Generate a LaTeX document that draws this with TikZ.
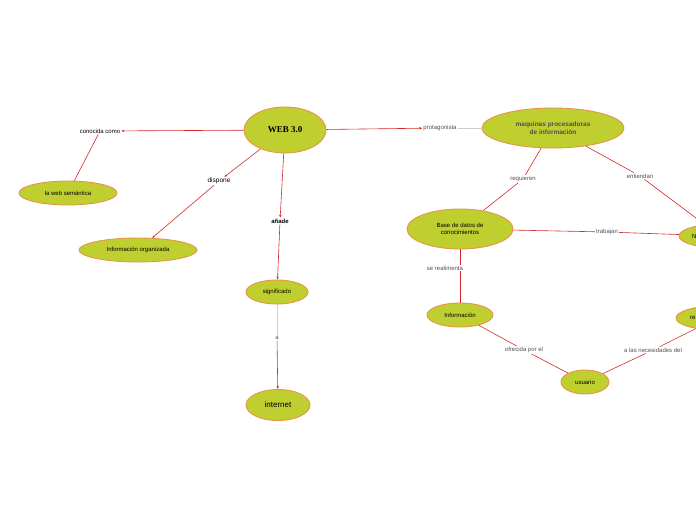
\documentclass[tikz,border=0pt]{standalone}
\usepackage{fontspec}
\setmainfont{Liberation Sans}
\newfontfamily\timesf{Liberation Serif}
\usetikzlibrary{shapes.geometric,arrows.meta}
\definecolor{nodefill}{HTML}{BFCF2F}
\definecolor{nodeborder}{HTML}{E8944A}
\definecolor{linkred}{HTML}{D42A2A}
\definecolor{labgray}{HTML}{505050}
\begin{document}
\begin{tikzpicture}[x=1pt,y=-1pt,
  concept/.style={ellipse,fill=nodefill,draw=nodeborder,line width=0.9pt,inner sep=0pt,font=\fontsize{6}{7}\selectfont,align=center},
  lab/.style={font=\fontsize{6}{7}\selectfont,text=labgray,fill=white,inner sep=1pt},
  link/.style={draw=linkred,line width=0.6pt},
  arr/.style={link,-{Stealth[length=3pt,width=2.5pt]}}]
\useasboundingbox (0,0) rectangle (696,520);
\clip (0,0) rectangle (696,520);
\node[concept,minimum width=82pt,minimum height=46pt,font=\timesf\bfseries\fontsize{9}{10}\selectfont] (web) at (285,130) {WEB 3.0};
\node[concept,minimum width=142pt,minimum height=40pt,text=labgray,font=\bfseries\fontsize{6.5}{8}\selectfont] (maq) at (553,128) {maquinas procesadoras\\de información};
\node[concept,minimum width=106pt,minimum height=40pt] (base) at (460,229) {Base de datos de\\conocimientos};
\node[concept,minimum width=66pt,minimum height=24pt] (info) at (460,315) {Información};
\node[concept,minimum width=48pt,minimum height=24pt] (usu) at (585,382) {usuario};
\node[concept,minimum width=82pt,minimum height=24pt] (nn) at (720,236) {};
\node[font=\fontsize{6}{7}\selectfont,anchor=west,inner sep=0pt] at (692,236) {N};
\node[concept,minimum width=82pt,minimum height=24pt] (re) at (717,318) {};
\node[font=\fontsize{6}{7}\selectfont,anchor=west,inner sep=0pt] at (690,318) {re};
\node[concept,minimum width=98pt,minimum height=24pt] (sem) at (68,193) {la web semántica};
\node[concept,minimum width=118pt,minimum height=24pt] (org) at (138,250) {Información organizada};
\node[concept,minimum width=62pt,minimum height=24pt] (sig) at (277,292) {significado};
\node[concept,minimum width=64pt,minimum height=31pt,font=\fontsize{8}{9}\selectfont] (net) at (278,405) {internet};

\node[lab,text=black] (con) at (100,131) {conocida como};
\node[lab,text=black,font=\fontsize{6.5}{7}\selectfont] (dis) at (219,181) {dispone};
\node[lab,text=black,font=\bfseries\fontsize{6}{7}\selectfont] (ana) at (280,221) {añade};
\node[lab] (a) at (277,338) {a};
\node[lab] (pro) at (440,128) {protagonista};
\node[lab] (req) at (523,179) {requieren};
\node[lab] (ent) at (640,176) {entiendan};
\node[lab] (tra) at (607,232) {trabajan};
\node[lab] (rea) at (445,268) {se realimenta};
\node[lab] (ofr) at (524,350) {ofrecida por el};
\node[lab] (nec) at (653,350) {a las necesidades del};

\draw[arr] (web) -- (con);
\draw[link] (con) -- (sem);
\draw[arr] (web) -- (dis);
\draw[arr] (dis) -- (org);
\draw[arr] (web) -- (ana);
\draw[arr] (ana) -- (sig);
\draw[draw=linkred!30,line width=0.6pt] (sig) -- (a);
\draw[arr] (a) -- (net);
\draw[arr] (web) -- (pro);
\draw[draw=gray!40,line width=0.8pt] (pro) -- (maq);
\draw[link] (maq) -- (req);
\draw[link] (req) -- (base);
\draw[link] (maq) -- (ent);
\draw[link] (ent) -- (nn);
\draw[link] (base) -- (tra);
\draw[link] (tra) -- (nn);
\draw[link] (base.south) -- (base.south |- rea.north);
\draw[link] (base.south |- rea.south) -- (info.north);
\draw[link] (info) -- (ofr);
\draw[link] (ofr) -- (usu);
\draw[link] (usu) -- (nec);
\draw[link] (nec) -- (re);
\end{tikzpicture}
\end{document}
